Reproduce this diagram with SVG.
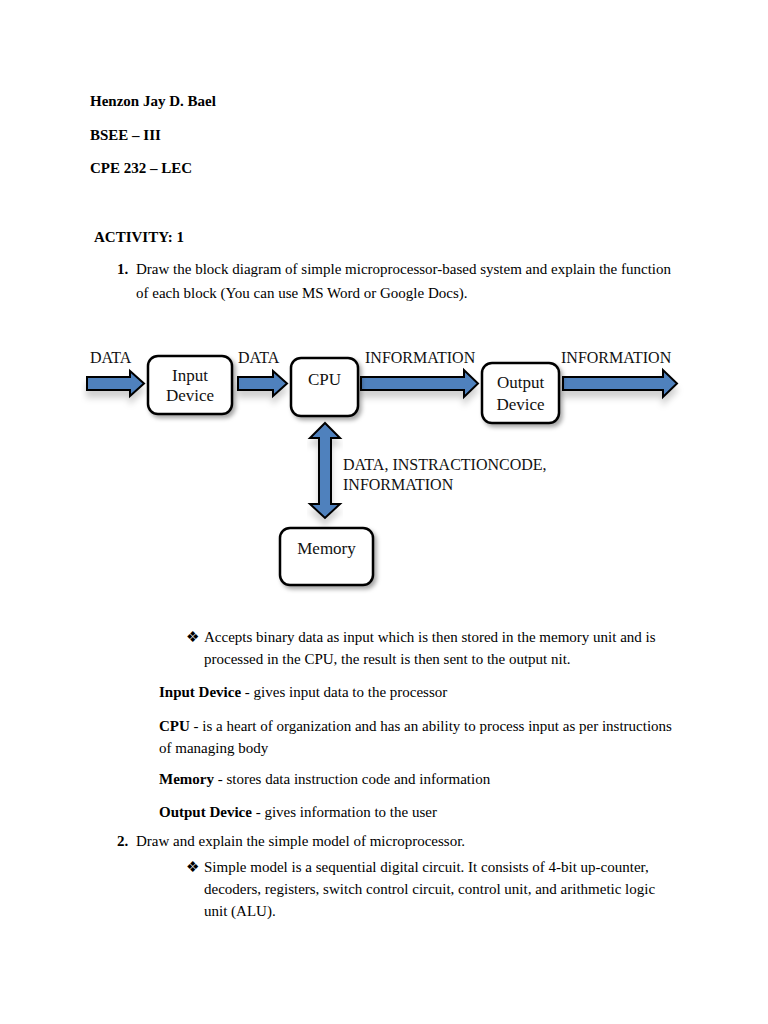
<svg xmlns="http://www.w3.org/2000/svg" width="768" height="1024" viewBox="0 0 768 1024">
<defs>
<style>
.t{font-family:"Liberation Serif","Times New Roman",serif;font-size:15px;fill:#000}
.b{font-weight:bold}
.lbl{font-family:"Liberation Serif","Times New Roman",serif;font-size:16px;fill:#111}
.nl{font-family:"Liberation Serif","Times New Roman",serif;font-size:17px;fill:#111;text-anchor:middle}
.box{fill:#fff;stroke:#000;stroke-width:2.5;filter:url(#sh)}
.arr{fill:#4F81BD;stroke:#000;stroke-width:2;stroke-linejoin:miter;filter:url(#ash)}
</style>
<filter id="sh" x="-20%" y="-20%" width="150%" height="150%">
<feDropShadow dx="2.5" dy="3" stdDeviation="2" flood-color="#000" flood-opacity="0.35"/>
</filter>
<filter id="ash" x="-10%" y="-50%" width="120%" height="250%">
<feDropShadow dx="0" dy="7" stdDeviation="3" flood-color="#000" flood-opacity="0.18"/>
</filter>
</defs>
<rect width="768" height="1024" fill="#fff"/>

<g id="header">
<text class="t b" x="90" y="106">Henzon Jay D. Bael</text>
<text class="t b" x="90" y="140">BSEE – III</text>
<text class="t b" x="90" y="173">CPE 232 – LEC</text>
<text class="t b" x="94" y="242">ACTIVITY: 1</text>
<text class="t" x="117" y="274"><tspan class="b">1.</tspan></text>
<text class="t" x="136" y="274">Draw the block diagram of simple microprocessor-based system and explain the function</text>
<text class="t" x="136" y="298">of each block (You can use MS Word or Google Docs).</text>
</g>

<g id="connectors">
<polygon class="arr" points="87,377 130,377 130,371 144,383.5 130,396 130,390 87,390"/>
<polygon class="arr" points="238,377 273,377 273,371 287,383.5 273,396 273,390 238,390"/>
<polygon class="arr" points="361,377 464,377 464,370 478,383.5 464,397 464,390 361,390"/>
<polygon class="arr" points="563,377 663,377 663,370 677,383.5 663,397 663,390 563,390"/>
<polygon class="arr" points="325,423 340,438 331,438 331,504 340,504 325,518 310,504 319,504 319,438 310,438"/>
<text class="lbl" x="90" y="363">DATA</text>
<text class="lbl" x="238" y="363">DATA</text>
<text class="lbl" x="365" y="363">INFORMATION</text>
<text class="lbl" x="561" y="363">INFORMATION</text>
<text class="lbl" x="343" y="470">DATA, INSTRACTIONCODE,</text>
<text class="lbl" x="343" y="490">INFORMATION</text>
</g>

<g id="input-device">
<rect class="box" x="148" y="356" width="84" height="58" rx="10"/>
<text class="nl" x="190" y="381">Input</text>
<text class="nl" x="190" y="401">Device</text>
</g>
<g id="cpu">
<rect class="box" x="291" y="358" width="67" height="58" rx="10"/>
<text class="nl" x="324.5" y="385">CPU</text>
</g>
<g id="output-device">
<rect class="box" x="482" y="363" width="77" height="60" rx="10"/>
<text class="nl" x="520.5" y="388">Output</text>
<text class="nl" x="520.5" y="410">Device</text>
</g>
<g id="memory">
<rect class="box" x="280" y="528" width="93" height="57" rx="10"/>
<text class="nl" x="326.5" y="554">Memory</text>
</g>

<g id="body">
<text class="t" x="186" y="642">❖</text>
<text class="t" x="204" y="642">Accepts binary data as input which is then stored in the memory unit and is</text>
<text class="t" x="204" y="664">processed in the CPU, the result is then sent to the output nit.</text>
<text class="t" x="159" y="697"><tspan class="b">Input Device</tspan> - gives input data to the processor</text>
<text class="t" x="159" y="731"><tspan class="b">CPU</tspan> - is a heart of organization and has an ability to process input as per instructions</text>
<text class="t" x="159" y="753">of managing body</text>
<text class="t" x="159" y="784"><tspan class="b">Memory</tspan> - stores data instruction code and information</text>
<text class="t" x="159" y="817"><tspan class="b">Output Device</tspan> - gives information to the user</text>
<text class="t b" x="117" y="846">2.</text>
<text class="t" x="136" y="846">Draw and explain the simple model of microprocessor.</text>
<text class="t" x="186" y="872">❖</text>
<text class="t" x="204" y="872">Simple model is a sequential digital circuit. It consists of 4-bit up-counter,</text>
<text class="t" x="204" y="894">decoders, registers, switch control circuit, control unit, and arithmetic logic</text>
<text class="t" x="204" y="916">unit (ALU).</text>
</g>
</svg>
